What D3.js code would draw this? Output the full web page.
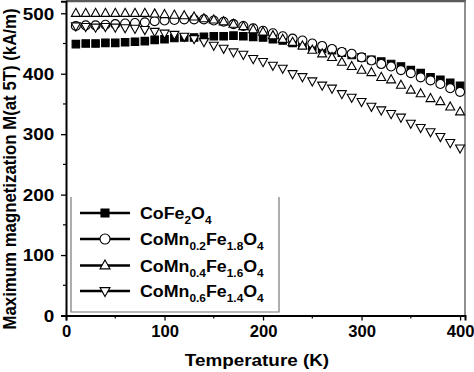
<!DOCTYPE html>
<html>
<head>
<meta charset="utf-8">
<script src="https://cdn.jsdelivr.net/npm/d3@7"></script>
<style>
  body { margin: 0; background: #fff; }
  text { font-family: "Liberation Sans", Arial, sans-serif; font-weight: bold; }
</style>
</head>
<body>
<div id="chart"></div>
<script>
// temperatures (K)
const temps = d3.range(10, 401, 10);

// maximum magnetization at 5T (kA/m)
const cofe2o4 = [449, 450, 450, 451, 451, 452, 453, 454, 456, 457,
                 459, 460, 460, 461, 462, 462, 463, 462, 461, 460,
                 457, 455, 451, 447, 445, 441, 439, 435, 431, 427,
                 423, 420, 416, 412, 406, 401, 394, 390, 385, 380];
const mn02 = [479, 480, 480, 481, 482, 483, 484, 485, 487, 488,
              489, 490, 490, 490, 488, 486, 482, 479, 475, 471,
              467, 462, 458, 455, 450, 446, 441, 436, 433, 427,
              422, 416, 412, 406, 401, 394, 389, 383, 376, 370];
const mn04 = [500, 500, 500, 500, 500, 500, 500, 500, 499, 498,
              497, 496, 494, 491, 489, 486, 482, 478, 473, 469,
              463, 457, 452, 446, 439, 433, 427, 419, 412, 406,
              402, 394, 390, 381, 373, 367, 359, 354, 345, 337];
const mn06 = [479, 478, 477, 478, 477, 476, 475, 473, 470, 467,
              465, 462, 458, 453, 447, 442, 436, 432, 425, 420,
              414, 409, 400, 395, 388, 381, 376, 367, 361, 354,
              346, 340, 334, 328, 318, 311, 304, 296, 286, 277];

const series = [
  {name: ["CoFe", "2", "O", "4"], values: cofe2o4, symbol: "square", fill: "#000"},
  {name: ["CoMn", "0.2", "Fe", "1.8", "O", "4"], values: mn02, symbol: "circle", fill: "#fff"},
  {name: ["CoMn", "0.4", "Fe", "1.6", "O", "4"], values: mn04, symbol: "up", fill: "#fff"},
  {name: ["CoMn", "0.6", "Fe", "1.4", "O", "4"], values: mn06, symbol: "down", fill: "#fff"}
];

const xTicks = [0, 100, 200, 300, 400];
const yTicks = [0, 100, 200, 300, 400, 500];

const width = 474, height = 372;
const svg = d3.select("#chart").append("svg")
    .attr("width", width)
    .attr("height", height);

const x = d3.scaleLinear().domain([0, 405]).range([66, 465]);
const y = d3.scaleLinear().domain([0, 520]).range([315.5, 1.2]);

// marker path generator
function marker(type, s) {
  if (type === "square") return d3.symbol(d3.symbolSquare, s * s)();
  if (type === "circle") return d3.symbol(d3.symbolCircle, Math.PI * (s / 2) * (s / 2))();
  let h = s * 0.9, w = s;
  if (type === "up") return `M0,${-h * 0.62}L${w / 2},${h * 0.38}L${-w / 2},${h * 0.38}Z`;
  return `M0,${h * 0.62}L${w / 2},${-h * 0.38}L${-w / 2},${-h * 0.38}Z`;
}

// frame (top and right)
svg.append("line").attr("x1", 66).attr("x2", 466).attr("y1", 1).attr("y2", 1)
    .attr("stroke", "#5a5a5a").attr("stroke-width", 2.5);
svg.append("line").attr("x1", 465).attr("x2", 465).attr("y1", 0).attr("y2", 315.5)
    .attr("stroke", "#6a6a6a").attr("stroke-width", 1.5);

// data points
series.forEach(s => {
  svg.append("g").selectAll("path")
    .data(temps.map((t, i) => [t, s.values[i]]))
    .join("path")
    .attr("transform", d => `translate(${x(d[0])},${y(d[1])})`)
    .attr("d", marker(s.symbol, s.symbol === "square" ? 7.5 : 9))
    .attr("fill", s.fill)
    .attr("stroke", "#000")
    .attr("stroke-width", 1.1);
});

// axes
const xAxis = svg.append("g").attr("transform", "translate(0,315.5)")
    .call(d3.axisBottom(x).tickValues(xTicks).tickSize(5).tickPadding(4));
const yAxis = svg.append("g").attr("transform", "translate(66,0)")
    .call(d3.axisLeft(y).tickValues(yTicks).tickSize(5).tickPadding(5));

// minor ticks
xAxis.selectAll(".minor").data([50, 150, 250, 350]).join("line")
    .attr("x1", d => x(d)).attr("x2", d => x(d)).attr("y1", 0).attr("y2", 3)
    .attr("stroke", "#000").attr("stroke-width", 1.2);
yAxis.selectAll(".minor").data([50, 150, 250, 350, 450]).join("line")
    .attr("y1", d => y(d)).attr("y2", d => y(d)).attr("x1", 0).attr("x2", -3)
    .attr("stroke", "#000").attr("stroke-width", 1.2);

[xAxis, yAxis].forEach(a => {
  a.select(".domain").attr("stroke-width", 2);
  a.selectAll(".tick line").attr("stroke-width", 1.3);
  a.selectAll("text").attr("font-size", 16).attr("fill", "#000")
      .style("font-family", "'Liberation Sans', Arial, sans-serif");
});
xAxis.selectAll(".tick text").attr("transform", "scale(1.04,1)");
yAxis.selectAll(".tick text").attr("transform", "scale(1.18,1)").attr("dy", "0.36em");
xAxis.selectAll(".tick text").attr("y", 10);

// axis titles
svg.append("text")
    .attr("transform", "translate(257,366) scale(1.18,1)")
    .attr("text-anchor", "middle")
    .attr("font-size", 16)
    .text("Temperature (K)");

svg.append("text")
    .attr("transform", "translate(16,169) rotate(-90) scale(1,1.05)")
    .attr("text-anchor", "middle")
    .attr("font-size", 16.8)
    .text("Maximum magnetization M(at 5T) (kA/m)");

// legend
const legend = svg.append("g");
legend.append("path")
    .attr("d", "M71,197V312H279V197")
    .attr("fill", "none")
    .attr("stroke", "#777")
    .attr("stroke-width", 1.2);

const rowY = [213, 239, 265.5, 291];
series.forEach((s, i) => {
  const g = legend.append("g").attr("transform", `translate(0,${rowY[i]})`);
  g.append("line").attr("x1", 80).attr("x2", 130).attr("y1", 0).attr("y2", 0)
      .attr("stroke", "#000").attr("stroke-width", 2.4);
  g.append("path")
      .attr("transform", "translate(105,0)")
      .attr("d", marker(s.symbol, s.symbol === "square" ? 8 : 10))
      .attr("fill", s.fill)
      .attr("stroke", "#000")
      .attr("stroke-width", 1.1);
  const t = g.append("text")
      .attr("transform", "translate(140,6) scale(1.08,1)")
      .attr("font-size", 16.5);
  s.name.forEach((part, j) => {
    const sub = j % 2 === 1;
    t.append("tspan")
        .attr("font-size", sub ? 11 : 16.5)
        .attr("dy", j === 0 ? 0 : (sub ? 5 : -5))
        .text(part);
  });
});
</script>
</body>
</html>
